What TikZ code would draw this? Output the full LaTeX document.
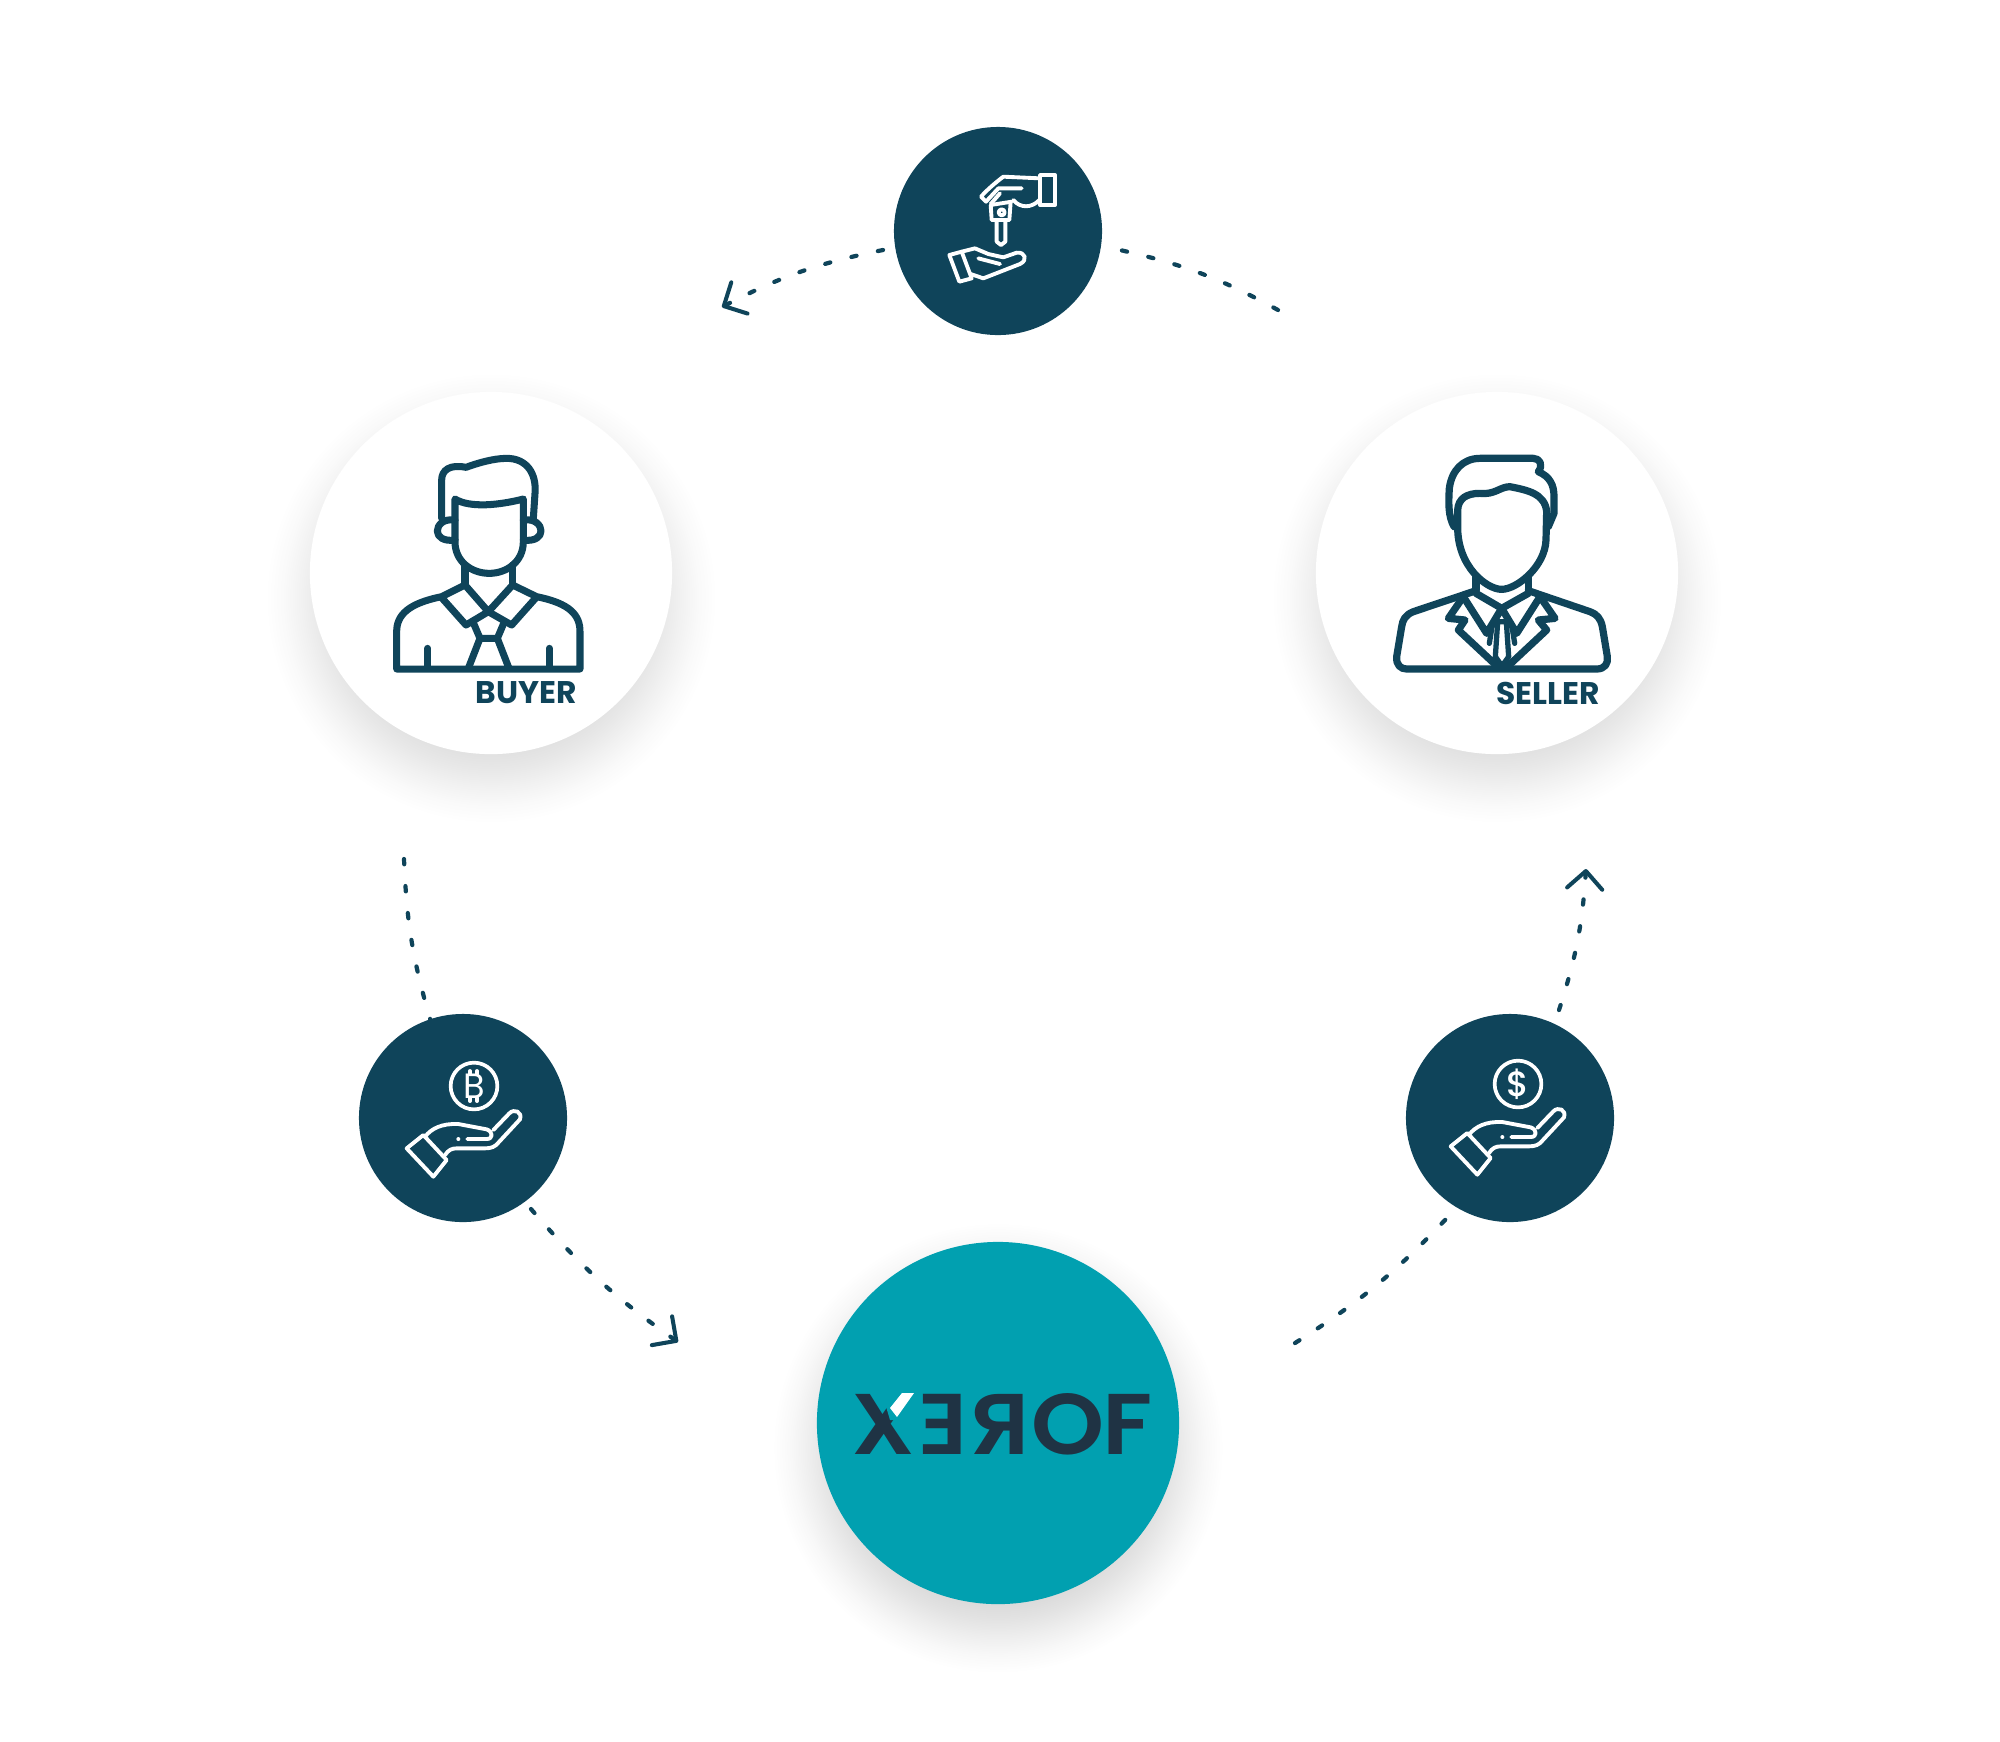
\documentclass[tikz,border=0pt]{standalone}
\usepackage{fontspec}
\setmainfont{Poppins}
\newfontfamily\logofont{Poppins SemiBold}[LetterSpace=2.5]
\newfontfamily\coinfont{Poppins Medium}
\usetikzlibrary{arrows.meta, shadows}
\definecolor{deepteal}{HTML}{0F445A}
\definecolor{brightteal}{HTML}{01A0B0}
\definecolor{logoink}{HTML}{1F3344}

\pgfdeclareradialshading{softdiscshade}{\pgfpointorigin}{color(0bp)=(pgftransparent!0); color(17bp)=(pgftransparent!0); color(19bp)=(pgftransparent!25); color(21bp)=(pgftransparent!55); color(23bp)=(pgftransparent!82); color(25bp)=(pgftransparent!100); color(50bp)=(pgftransparent!100)}
\pgfdeclarefading{softdisc}{\pgfuseshading{softdiscshade}}

\tikzset{
    softshadow/.style={general shadow={shadow xshift=0cm, shadow yshift=-0.2cm, shadow scale=1.24, path fading=softdisc, fill=black, opacity=#1}},
    handicon/.pic={
        \begin{scope}[scale=1/3]
            \draw[whiteline] (50,325) -- (100,285) -- (170,360) -- (130,410) -- cycle;
            \draw[whiteline] (105,290) .. controls (125,265) and (155,250) .. (205,252) -- (290,268) .. controls (310,275) and (310,297) .. (290,297) -- (232,297);
            \draw[whiteline] (165,345) .. controls (175,330) and (185,325) .. (200,325) -- (285,325) .. controls (305,325) and (315,320) .. (325,308) -- (390,238) .. controls (398,215) and (372,205) .. (358,220) -- (310,270);
            \fill[white] (205,297) circle (6);
        \end{scope}
    }
}

\begin{document}
\begin{tikzpicture}[
        x=0.01cm, y=-0.01cm,
        % Styles
        smallcircle/.style={circle, fill=deepteal, minimum size=2.08cm, inner sep=0pt},
        personcircle/.style={circle, fill=white, minimum size=3.62cm, inner sep=0pt, softshadow=0.12},
        logocircle/.style={circle, fill=brightteal, minimum size=3.62cm, inner sep=0pt, softshadow=0.15},
        coinbox/.style={circle, draw=white, line width=1.05pt, minimum size=0.467cm, inner sep=0pt,
                text=white, font=\fontsize{10}{10}\selectfont},
        darkline/.style={draw=deepteal, line width=2pt, line join=round, line cap=round},
        whiteline/.style={draw=white, line width=1.1pt, line join=round, line cap=round},
        dotarrow/.style={draw=deepteal, line width=1.2pt, line cap=round, dash pattern=on 1.5pt off 6.2pt},
        chevron/.style={-{Straight Barb[length=5pt, width=10pt, line width=1.15pt, round=false]}},
        namelabel/.style={text=deepteal, font=\fontsize{8.9}{8.9}\selectfont\bfseries, inner sep=0pt},
        logotext/.style={text=logoink, inner sep=0pt, font=\fontsize{24.5}{24.5}\logofont},
    ]
    \useasboundingbox (0,0) rectangle (2000,1741);

    % === CIRCLES ===
    \node[smallcircle] (keys) at (998,231) {};
    \node[personcircle] (buyer) at (491,573) {};
    \node[personcircle] (seller) at (1497,573) {};
    \node[smallcircle] (bitcoin) at (463,1118) {};
    \node[smallcircle] (dollar) at (1510,1118) {};
    \node[logocircle] (forex) at (998,1423) {};

    % === CONNECTORS ===
    \coordinate (sellerend) at (1278,310);
    \coordinate (keysright) at (1120,250);
    \coordinate (keysleft) at (883,250);
    \coordinate (buyertip) at (722,307);
    \coordinate (buyerend) at (404,859);
    \coordinate (bitcointop) at (431,1022);
    \coordinate (bitcoinend) at (531,1209);
    \coordinate (forextip) at (678,1342);
    \coordinate (forexend) at (1295,1343);
    \coordinate (dollarend) at (1446,1219);
    \coordinate (dollartop) at (1559,1010);
    \coordinate (sellertip) at (1586,869);

    \draw[dotarrow] (sellerend) to[bend right=8] (keysright);
    \draw[dotarrow, chevron] (keysleft) to[bend right=8] (buyertip);
    \draw[dotarrow] (buyerend) to[bend right=7] (bitcointop);
    \draw[dotarrow, chevron] (bitcoinend) to[bend right=7] (forextip);
    \draw[dotarrow] (forexend) to[bend right=7] (dollarend);
    \draw[dotarrow, chevron] (dollartop) to[bend right=7] (sellertip);

    % === BUYER ICON ===
    \begin{scope}[shift={(360,430)}, scale=1/3]
        \draw[darkline] (245,265) -- (245,150) .. controls (245,120) and (270,102) .. (318,112) .. controls (350,100) and (400,85) .. (440,85) .. controls (500,85) and (530,130) .. (525,190) -- (520,265);
        \draw[darkline] (285,207) .. controls (330,235) and (420,225) .. (490,207) -- (490,335) .. controls (490,395) and (440,430) .. (388,430) .. controls (335,430) and (285,395) .. (285,335) -- cycle;
        \draw[darkline] (285,270) .. controls (250,265) and (232,285) .. (232,303) .. controls (232,320) and (250,335) .. (285,330);
        \draw[darkline] (490,270) .. controls (525,265) and (543,285) .. (543,303) .. controls (543,320) and (525,335) .. (490,330);
        \draw[darkline] (315,405) -- (315,465);
        \draw[darkline] (458,405) -- (458,465);
        \draw[darkline] (110,717) -- (110,605) .. controls (110,555) and (145,520) .. (245,500) -- (315,465) -- (385,545) -- (458,465) -- (530,500) .. controls (630,520) and (660,555) .. (660,605) -- (660,717) -- cycle;
        \draw[darkline] (245,503) -- (318,585) -- (385,545) -- (455,585) -- (528,503);
        \draw[darkline] (340,578) -- (360,625) -- (412,625) -- (432,578);
        \draw[darkline] (360,625) -- (325,715);
        \draw[darkline] (412,625) -- (447,715);
        \draw[darkline] (203,655) -- (203,715);
        \draw[darkline] (568,655) -- (568,715);
    \end{scope}
    \node[namelabel] (buyerlabel) at (526,693) {BUYER};

    % === SELLER ICON ===
    \begin{scope}[shift={(1370,430)}, scale=1/3, darkline/.append style={line width=2.05pt}]
        \draw[darkline] (252,290) .. controls (235,260) and (235,220) .. (238,175) .. controls (245,120) and (280,85) .. (330,85) -- (490,85) .. controls (510,85) and (520,105) .. (505,125) .. controls (540,140) and (552,165) .. (552,200) -- (552,250) -- (535,290);
        \draw[darkline] (263,290) -- (263,240) .. controls (265,205) and (290,190) .. (330,190) .. controls (375,195) and (390,170) .. (420,170) .. controls (470,180) and (525,190) .. (530,245) -- (528,330) .. controls (525,410) and (440,478) .. (395,478) .. controls (350,478) and (262,410) .. (263,290);
        \draw[darkline] (318,440) -- (318,480);
        \draw[darkline] (475,440) -- (475,480);
        \draw[darkline] (318,482) -- (130,545) .. controls (105,555) and (98,570) .. (95,590) -- (80,680) .. controls (78,705) and (92,717) .. (110,717) -- (680,717) .. controls (705,717) and (715,700) .. (712,680) -- (697,590) .. controls (692,565) and (680,552) .. (660,545) -- (475,482);
        \draw[darkline] (318,490) -- (395,535) -- (475,490);
        \draw[darkline] (280,500) -- (235,565) -- (285,570) -- (265,600) -- (385,712);
        \draw[darkline] (510,500) -- (555,565) -- (505,570) -- (530,600) -- (410,712);
        \draw[darkline] (280,500) -- (350,610) -- (395,535) -- (440,610) -- (510,500);
        \draw[darkline, line width=1.5pt] (383,575) -- (376,680) -- (396,708) -- (416,680) -- (409,575) -- cycle;
        \draw[darkline, line width=1.5pt] (350,610) -- (366,590) -- (358,640);
        \draw[darkline, line width=1.5pt] (440,610) -- (426,590) -- (434,640);
    \end{scope}
    \node[namelabel] (sellerlabel) at (1548,693) {SELLER};

    % === KEY ICON ===
    \begin{scope}[shift={(900,150)}, scale=1/3]
        \draw[whiteline] (420,75) rectangle (465,165);
        \draw[whiteline] (420,85) -- (310,80) .. controls (290,95) and (260,120) .. (243,140) -- (258,155) -- (295,115) -- (365,115);
        \draw[whiteline] (340,150) .. controls (360,175) and (395,175) .. (418,150);
        \draw[whiteline] (300,130) -- (272,162);
        \draw[whiteline] (335,155) -- (272,165) -- (275,210) -- (328,210) -- (332,155);
        \draw[whiteline] (290,212) -- (290,275) -- (303,285) -- (316,275) -- (316,212);
        \draw[whiteline] (305,187) circle (9);
        \draw[whiteline] (148,315) -- (185,305) -- (215,385) -- (178,395) -- cycle;
        \draw[whiteline] (185,305) -- (225,295) -- (265,312) -- (310,322) -- (350,308) .. controls (375,305) and (385,330) .. (360,342) -- (250,385) -- (212,372);
        \draw[whiteline] (235,325) -- (300,342);
    \end{scope}

    % === BITCOIN ICON ===
    \pic at (390,1040) {handicon};
    \node[coinbox] (bitcoincoin) at (474,1086) {B};
    \draw[whiteline] (470,1071) -- (470,1074);
    \draw[whiteline] (477,1071) -- (477,1074);
    \draw[whiteline] (470,1098) -- (470,1101);
    \draw[whiteline] (477,1098) -- (477,1101);

    % === DOLLAR ICON ===
    \pic at (1434,1038) {handicon};
    \node[coinbox, font=\fontsize{10}{10}\coinfont] (dollarcoin) at (1518,1084) {\$};

    % === LOGO ===
    \node[logotext, xscale=-1.08] (logomirror) at (978,1424) {OREX};
    \node[logotext, xscale=1.1] (logoend) at (1128,1424) {F};
    \fill[brightteal] (884,1400) -- (896,1385) -- (920,1385) -- (905,1420) -- (890,1420) -- cycle;
    \fill[white] (890,1408) -- (902,1393) -- (914,1393) -- (897,1417) -- cycle;
\end{tikzpicture}
\end{document}
